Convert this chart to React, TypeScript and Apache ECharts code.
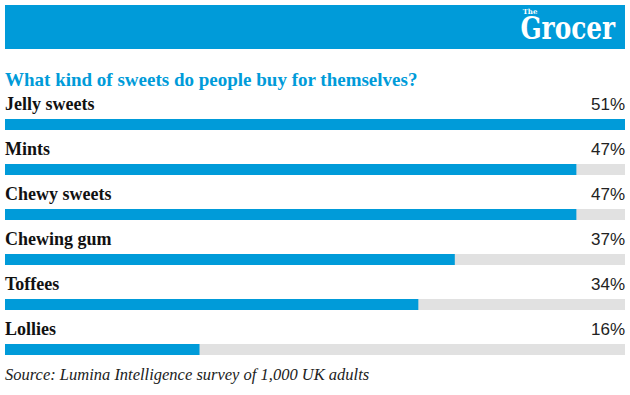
import React, { useEffect, useRef } from "react";
import * as echarts from "echarts";

const categories = ["Jelly sweets", "Mints", "Chewy sweets", "Chewing gum", "Toffees", "Lollies"];
const values = [51, 47, 47, 37, 34, 16];
const axisMax = 51;
const title = "What kind of sweets do people buy for themselves?";
const source = "Source: Lumina Intelligence survey of 1,000 UK adults";

const BLUE = "#009bd9";

export default function App() {
  const ref = useRef<HTMLDivElement>(null);
  useEffect(() => {
    const chart = echarts.init(ref.current!, null, { renderer: "svg" });
    chart.setOption({
      animation: false,
      backgroundColor: "#ffffff",
      grid: { left: 5, right: 5, top: 102, bottom: 23 },
      xAxis: { type: "value", min: 0, max: axisMax, show: false },
      yAxis: {
        type: "category",
        data: categories,
        inverse: true,
        show: false,
      },
      graphic: [
        { type: "rect", shape: { x: 5, y: 5, width: 620, height: 44 }, style: { fill: BLUE } },
        {
          type: "text",
          x: 615,
          y: 28,
          scaleX: 0.86,
          originX: 0,
          originY: 0,
          style: {
            text: "Grocer",
            fill: "#ffffff",
            font: "bold 32px 'DejaVu Serif Condensed', 'DejaVu Serif'",
            textAlign: "right",
            textVerticalAlign: "middle",
          },
        },
        {
          type: "text",
          x: 530,
          y: 8,
          style: {
            text: "The",
            fill: "#ffffff",
            font: "bold 7px 'DejaVu Serif'",
            textAlign: "center",
            textVerticalAlign: "top",
          },
        },
        {
          type: "text",
          x: 5,
          y: 79,
          style: {
            text: title,
            fill: BLUE,
            font: "bold 19px 'Liberation Serif'",
            textVerticalAlign: "middle",
          },
        },
        {
          type: "text",
          x: 5,
          y: 374,
          style: {
            text: source,
            fill: "#222222",
            font: "italic 16.5px 'Liberation Serif'",
            textVerticalAlign: "middle",
          },
        },
      ],
      series: [
        {
          type: "bar",
          data: categories.map(() => axisMax),
          barWidth: 11,
          barGap: "-100%",
          itemStyle: { color: "#e1e1e1" },
          silent: true,
          label: {
            show: true,
            position: ["100%", -15],
            align: "right",
            verticalAlign: "middle",
            formatter: (p: any) => values[p.dataIndex] + "%",
            color: "#222222",
            fontFamily: "'Liberation Sans Narrow', 'Liberation Sans'",
            fontSize: 17,
          },
          z: 1,
        },
        {
          type: "bar",
          data: values,
          barWidth: 11,
          barGap: "-100%",
          itemStyle: { color: BLUE },
          label: {
            show: true,
            position: [0, -15],
            align: "left",
            verticalAlign: "middle",
            formatter: (p: any) => categories[p.dataIndex],
            color: "#111111",
            fontFamily: "'Liberation Serif'",
            fontWeight: "bold",
            fontSize: 18,
          },
          z: 2,
        },
      ],
    });
    return () => chart.dispose();
  }, []);
  return (
    <div
      ref={ref}
      style={{ position: "fixed", left: 0, top: 0, width: 630, height: 395 }}
    />
  );
}
